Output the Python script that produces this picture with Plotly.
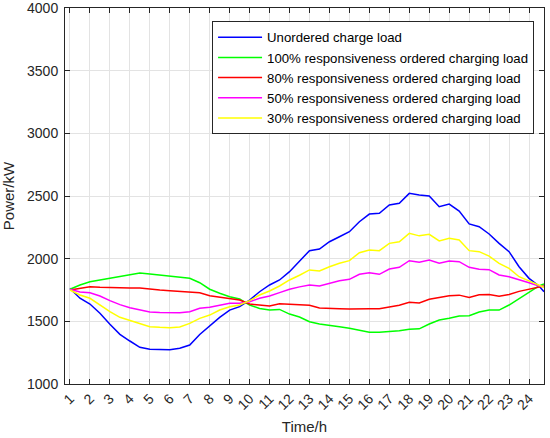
import plotly.graph_objects as go

# time axis: half-hour samples, last one at 24.75 h
hours = [1 + 0.5 * i for i in range(48)] + [24.75]

unordered = [1763, 1684, 1638, 1564, 1476, 1396, 1343, 1293, 1277, 1273, 1273, 1285,
             1311, 1395, 1466, 1532, 1590, 1617, 1670, 1736, 1790, 1830, 1896, 1976,
             2064, 2077, 2135, 2175, 2215, 2295, 2356, 2362, 2428, 2442, 2521, 2508,
             2500, 2414, 2436, 2380, 2277, 2255, 2197, 2122, 2056, 1936, 1843, 1782, 1736]
resp100 = [1756, 1790, 1816, 1830, 1843, 1856, 1870, 1886, 1878, 1870, 1864, 1851,
           1843, 1808, 1756, 1724, 1696, 1678, 1630, 1603, 1590, 1595, 1558, 1535,
           1497, 1479, 1465, 1457, 1444, 1425, 1412, 1412, 1417, 1425, 1436, 1440,
           1479, 1510, 1524, 1542, 1545, 1574, 1590, 1590, 1630, 1683, 1736, 1782, 1798]
resp80 = [1750, 1763, 1776, 1771, 1768, 1766, 1766, 1766, 1756, 1750, 1745, 1740,
          1731, 1728, 1704, 1691, 1678, 1670, 1638, 1628, 1623, 1640, 1638, 1632,
          1628, 1606, 1601, 1601, 1598, 1601, 1601, 1601, 1617, 1628, 1652, 1646,
          1676, 1691, 1704, 1709, 1691, 1712, 1714, 1701, 1714, 1739, 1758, 1776, 1782]
resp50 = [1756, 1734, 1728, 1702, 1665, 1633, 1609, 1590, 1574, 1571, 1569, 1569,
          1577, 1604, 1612, 1630, 1644, 1644, 1657, 1684, 1702, 1729, 1756, 1775,
          1790, 1782, 1803, 1824, 1835, 1875, 1888, 1875, 1917, 1931, 1984, 1972,
          1989, 1963, 1981, 1976, 1931, 1915, 1912, 1870, 1856, 1835, 1808, 1782, 1776]
resp30 = [1750, 1710, 1684, 1630, 1577, 1532, 1505, 1479, 1457, 1452, 1449, 1455,
          1484, 1524, 1550, 1590, 1617, 1630, 1665, 1710, 1742, 1782, 1830, 1868,
          1910, 1902, 1936, 1963, 1984, 2048, 2069, 2064, 2122, 2135, 2202, 2182,
          2194, 2141, 2162, 2149, 2064, 2056, 2021, 1963, 1923, 1856, 1822, 1782, 1771]

series = [
    ("Unordered charge load", unordered, "#0000ff"),
    ("100% responsiveness ordered charging load", resp100, "#00ff00"),
    ("80% responsiveness ordered charging load", resp80, "#ff0000"),
    ("50% responsiveness ordered charging load", resp50, "#ff00ff"),
    ("30% responsiveness ordered charging load", resp30, "#ffff00"),
]

x_ticks = list(range(1, 25))
y_ticks = [1000, 1500, 2000, 2500, 3000, 3500, 4000]

fig = go.Figure()
for name, vals, col in series:
    fig.add_trace(go.Scatter(x=hours, y=vals, mode="lines", name=name,
                             line=dict(color=col, width=1.5)))

FONT = "Liberation Sans, Arial"
axis_style = dict(showline=True, linecolor="#262626", linewidth=1, mirror="ticks",
                  ticks="inside", ticklen=5, tickcolor="#262626",
                  showgrid=True, gridcolor="#e3e3e3", gridwidth=1, zeroline=False,
                  automargin=False, ticklabeloverflow="allow",
                  tickfont=dict(family=FONT, size=14, color="#262626"))

fig.update_xaxes(range=[0.75, 24.75], tickvals=x_ticks, ticktext=[str(t) for t in x_ticks],
                 tickangle=-45,
                 title=dict(text="Time/h", font=dict(family=FONT, size=15, color="#262626"),
                            standoff=9),
                 **axis_style)
fig.update_yaxes(range=[1000, 4000], tickvals=y_ticks, ticklabelstandoff=3,
                 title=dict(text="Power/kW", font=dict(family=FONT, size=15, color="#262626"),
                            standoff=8),
                 **axis_style)

fig.update_layout(
    width=550, height=438,
    margin=dict(l=65, r=6, t=8, b=54),
    plot_bgcolor="white", paper_bgcolor="white",
    legend=dict(x=0.307, y=0.965, xanchor="left", yanchor="top",
                bgcolor="white", bordercolor="#262626", borderwidth=1,
                font=dict(family=FONT, size=13.2, color="#000000"),
                itemwidth=44, tracegroupgap=0),
)

# drop the browser's default body margin so the figure sits at the page corner
fig.write_html("out.html", config={"displayModeBar": False},
               post_script="document.body.style.margin='0';")
